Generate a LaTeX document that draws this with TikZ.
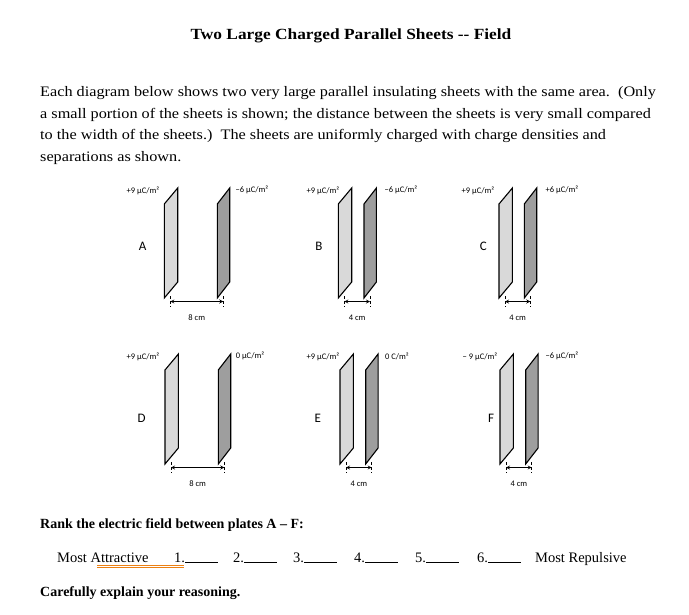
\documentclass[tikz,border=0pt]{standalone}
\usepackage{fontspec}
\usetikzlibrary{calc}
\setmainfont{Liberation Serif}
\newfontfamily\bodyf[FakeStretch=1.12]{Liberation Serif}
\newfontfamily\lab{Carlito}
\begin{document}
\begin{tikzpicture}[x=1pt,y=-1pt,
  lbl/.style={font=\lab\fontsize{8.5}{9}\selectfont,inner sep=0pt},
  letter/.style={font=\lab\fontsize{13}{14}\selectfont,inner sep=0pt},
  dimtxt/.style={font=\lab\fontsize{8.5}{9}\selectfont,inner sep=0pt},
  body/.style={font=\bodyf\fontsize{14.5}{16}\selectfont,inner sep=0pt,anchor=base west},
  bot/.style={font=\fontsize{13.6}{16}\selectfont,inner sep=0pt,anchor=base west},
  sheetA/.style={draw=black,line width=1.1pt,fill=black!15,line join=miter},
  sheetB/.style={draw=black,line width=1.1pt,fill=black!38,line join=miter},
  tick/.style={densely dashed,line width=0.6pt},
  dim/.style={<->,>=stealth,line width=0.8pt},
  spell/.style={draw=orange!70!brown,line width=0.5pt}]
\useasboundingbox (0,0) rectangle (689,614);
\node[font=\bodyf\bfseries\fontsize{15.5}{16}\selectfont,inner sep=0pt] (title) at (351,36) {Two Large Charged Parallel Sheets -- Field};
\node[body] (l1) at (40,96) {Each diagram below shows two very large parallel insulating sheets with the same area.\ \ (Only};
\node[body] (l2) at (40,118) {a small portion of the sheets is shown; the distance between the sheets is very small compared};
\node[body] (l3) at (40,139) {to the width of the sheets.)\ \ The sheets are uniformly charged with charge densities and};
\node[body] (l4) at (40,161) {separations as shown.};
\foreach \lx/\rx/\yb/\nm/\ttl/\ttr/\lettx/\letty/\dist/\lblx/\lbrx in {
  164.3/217.3/298/A/{+9 µC/m²}/{−6 µC/m²}/142.7/246/8 cm/143/252,
  338.3/364/298/B/{+9 µC/m²}/{−6 µC/m²}/319/246/4 cm/323/401,
  499/524.3/298/C/{+9 µC/m²}/{+6 µC/m²}/483.3/246/4 cm/478/562,
  165/218.3/464/D/{+9 µC/m²}/{0 µC/m²}/141.7/418/8 cm/143/250,
  340/365.7/464/E/{+9 µC/m²}/{0 C/m²}/317.7/418/4 cm/323/397,
  500/525.7/464/F/{− 9 µC/m²}/{−6 µC/m²}/491/418/4 cm/480/562}{
  \draw[sheetA] (\lx,\yb) -- (\lx,\yb-94) -- (\lx+13.4,\yb-110) -- (\lx+13.4,\yb-16) -- cycle;
  \draw[sheetB] (\rx,\yb) -- (\rx,\yb-94) -- (\rx+12.4,\yb-110) -- (\rx+12.4,\yb-16) -- cycle;
  \node[letter] (let\nm) at (\lettx,\letty) {\nm};
  \node[lbl] (tl\nm) at (\lblx,\yb-107) {\ttl};
  \node[lbl] (tr\nm) at (\lbrx,\yb-108) {\ttr};
  \coordinate (dl\nm) at (\lx+6,\yb+3.5);
  \coordinate (dr\nm) at (\rx+6,\yb+3.5);
  \draw[tick] (\lx+6,\yb-2) -- (\lx+6,\yb+9);
  \draw[tick] (\rx+6,\yb-2) -- (\rx+6,\yb+9);
  \draw[dim] (dl\nm) -- (dr\nm);
  \node[dimtxt] (d\nm) at ($(dl\nm)!0.5!(dr\nm)+(0,16)$) {\dist};
}
\node[bot,font=\bfseries\fontsize{14}{16}\selectfont] (rank) at (40,528) {Rank the electric field between plates A -- F:};
\node[bot,font=\fontsize{14.5}{16}\selectfont] (most) at (57,562) {Most Attractive};
\draw[spell] (97,565) -- (184,565);
\draw[spell] (97,567) -- (184,567);
\foreach \i/\xx in {1/174,2/233,3/293,4/354,5/415,6/477}{
  \node[bot,font=\fontsize{14.5}{16}\selectfont] (n\i) at (\xx,562) {\i.\rule[-1pt]{33pt}{0.6pt}};
}
\node[bot,font=\fontsize{14.5}{16}\selectfont] (rep) at (535,562) {Most Repulsive};
\node[bot,font=\bfseries\fontsize{14}{16}\selectfont] (expl) at (40,596) {Carefully explain your reasoning.};
\end{tikzpicture}
\end{document}
